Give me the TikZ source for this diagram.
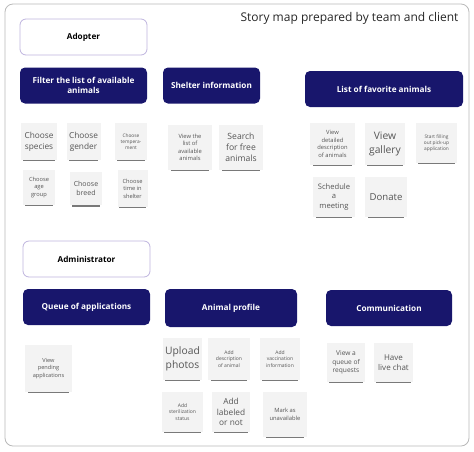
\documentclass[tikz,border=0pt]{standalone}
\usepackage{fontspec}
\setmainfont{Open Sans}
\usepackage{tikz}
\usetikzlibrary{shadows}
\definecolor{navy}{RGB}{24,22,108}
\definecolor{lilac}{RGB}{190,180,222}
\definecolor{paper}{RGB}{243,243,243}
\definecolor{ink}{RGB}{85,85,85}
\definecolor{frame}{RGB}{185,185,185}
\begin{document}
\begin{tikzpicture}[
          x=1pt, y=-1pt,
          actor/.style={rectangle, rounded corners=6pt, draw=lilac, fill=white,
                        line width=0.8pt, minimum width=127, minimum height=36,
                        font=\fontsize{8.2}{10}\selectfont\bfseries},
          epic/.style={rectangle, rounded corners=5pt, fill=navy, text=white,
                       minimum height=36, align=center,
                       font=\fontsize{8.2}{10.5}\selectfont\bfseries},
          note/.style={rectangle, fill=paper, text=ink, align=center, inner sep=1pt,
                       drop shadow={shadow xshift=0pt, shadow yshift=-4pt,
                                    shadow scale=0.88, opacity=0.75, fill=black!70},
                       font=\fontsize{#1}{#1}\selectfont\setlength\baselineskip{1.3\baselineskip}},
          heading/.style={font=\fontsize{12}{14}\selectfont, text=black!85}
        ]
          \useasboundingbox (0,0) rectangle (474,451);
          \draw[frame, line width=0.8pt, rounded corners=8pt] (5,4) rectangle (469,446);
          \node[heading, anchor=east] (title) at (462,18) {Story map prepared by team and client};

          \node[actor] (adopter) at (83.5,37) {Adopter};
          \node[epic, minimum width=127] (filter) at (83.5,85.5) {Filter the list of available\\animals};
          \node[epic, minimum width=97] (shelter) at (211.5,85.5) {Shelter information};
          \node[epic, minimum width=158] (favorites) at (384,89) {List of favorite animals};

          \node[note=8.3, minimum width=36, minimum height=37] (species) at (39,141.5) {Choose\\species};
          \node[note=8.3, minimum width=34, minimum height=37] (gender) at (83.5,141.5) {Choose\\gender};
          \node[note=4.8, minimum width=32, minimum height=37] (temper) at (131,141.5) {Choose\\tempera-\\ment};
          \node[note=5.7, minimum width=32, minimum height=35] (age) at (39,187.5) {Choose\\age\\group};
          \node[note=7, minimum width=32, minimum height=33] (breed) at (86,188.5) {Choose\\breed};
          \node[note=5.7, minimum width=30, minimum height=37] (time) at (132.5,188.5) {Choose\\time in\\shelter};

          \node[note=5.8, minimum width=44, minimum height=45] (viewlist) at (190,147.5) {View the\\list of\\available\\animals};
          \node[note=8.6, minimum width=44, minimum height=45] (search) at (241,147.5) {Search\\for free\\animals};

          \node[note=5.8, minimum width=45, minimum height=42] (detailed) at (332.5,144) {View\\detailed\\description\\of animals};
          \node[note=10.3, minimum width=40, minimum height=42] (gallery) at (385,144) {View\\gallery};
          \node[note=4.8, minimum width=41, minimum height=40] (pickup) at (436.5,143) {Start filling\\out pick-up\\application};
          \node[note=7.6, minimum width=42, minimum height=40] (meeting) at (334,197) {Schedule\\a\\meeting};
          \node[note=9.6, minimum width=42, minimum height=40] (donate) at (386,197) {Donate};

          \node[actor] (admin) at (86.5,259) {Administrator};
          \node[epic, minimum width=127] (queue) at (86.5,307) {Queue of applications};
          \node[epic, minimum width=132, minimum height=38] (profile) at (231,308) {Animal profile};
          \node[epic, minimum width=126] (comm) at (389,308) {Communication};

          \node[note=5.6, minimum width=47, minimum height=47] (pending) at (48.5,368.5) {View\\pending\\applications};

          \node[note=10.3, minimum width=39, minimum height=42] (upload) at (182.5,359) {Upload\\photos};
          \node[note=5, minimum width=42, minimum height=42] (adddesc) at (229,359) {Add\\description\\of animal};
          \node[note=5, minimum width=40, minimum height=42] (vaccine) at (280,359) {Add\\vaccination\\information};
          \node[note=5, minimum width=41, minimum height=40] (steril) at (182.5,412) {Add\\sterilization\\status};
          \node[note=8.3, minimum width=38, minimum height=40] (labeled) at (231,412) {Add\\labeled\\or not};
          \node[note=5.8, minimum width=44, minimum height=45] (unavail) at (285,414.5) {Mark as\\unavailable};

          \node[note=6.6, minimum width=38, minimum height=39] (requests) at (346,362.5) {View a\\queue of\\requests};
          \node[note=8, minimum width=39, minimum height=39] (chat) at (393.5,362.5) {Have\\live chat};
        \end{tikzpicture}
\end{document}
